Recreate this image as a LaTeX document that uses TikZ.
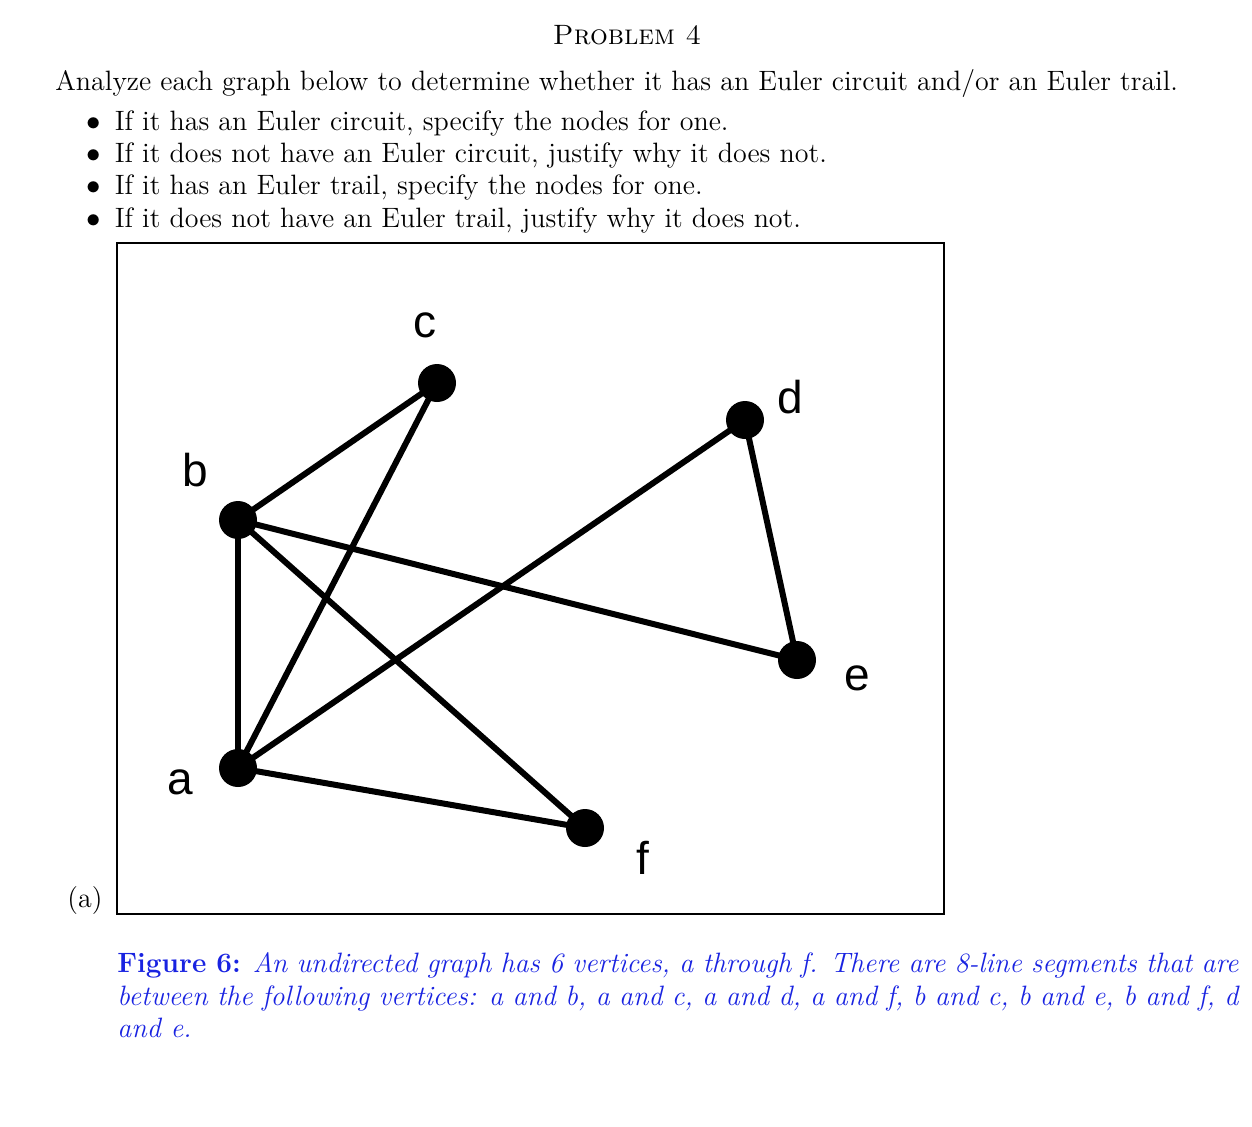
\documentclass[tikz,border=0pt]{standalone}
\usepackage{fontspec}
\newfontfamily\arial{Liberation Sans}
\definecolor{capblue}{RGB}{25,35,225}
\begin{document}
\begin{tikzpicture}[x=0.5pt,y=-0.5pt,
  vtx/.style={circle,fill=black,minimum size=19pt,inner sep=0pt},
  lbl/.style={font=\arial\fontsize{23}{23}\selectfont,inner sep=0pt},
  edge/.style={line width=3pt},
  txt/.style={anchor=west,inner sep=0pt,font=\fontsize{14}{16}\selectfont}]
\useasboundingbox (0,0) rectangle (1252,1126);
\node[inner sep=0pt,font=\fontsize{14}{16}\selectfont] (title) at (627,35) {\textsc{Problem 4}};
\node[txt] (intro) at (55,83) {Analyze each graph below to determine whether it has an Euler circuit and/or an Euler trail.};
\node[txt] (l1) at (86,123) {$\bullet$\hspace{7pt}If it has an Euler circuit, specify the nodes for one.};
\node[txt] (l2) at (86,155) {$\bullet$\hspace{7pt}If it does not have an Euler circuit, justify why it does not.};
\node[txt] (l3) at (86,187) {$\bullet$\hspace{7pt}If it has an Euler trail, specify the nodes for one.};
\node[txt] (l4) at (86,220) {$\bullet$\hspace{7pt}If it does not have an Euler trail, justify why it does not.};
\draw[line width=0.6pt] (117,243) rectangle (944,914);
\node[txt] (lab) at (67,900) {(a)};
\node[vtx] (c) at (437,383) {};
\node[vtx] (d) at (745,420) {};
\node[vtx] (b) at (238,520) {};
\node[vtx] (e) at (797,660) {};
\node[vtx] (a) at (238,768) {};
\node[vtx] (f) at (585,828) {};
\node[lbl] at (425,325) {c};
\node[lbl] at (790,397) {d};
\node[lbl] at (195,470) {b};
\node[lbl] at (857,678) {e};
\node[lbl] at (180,782) {a};
\node[lbl] at (643,858) {f};
\draw[edge] (a.center) -- (b.center);
\draw[edge] (a.center) -- (c.center);
\draw[edge] (a.center) -- (d.center);
\draw[edge] (a.center) -- (f.center);
\draw[edge] (b.center) -- (c.center);
\draw[edge] (b.center) -- (e.center);
\draw[edge] (b.center) -- (f.center);
\draw[edge] (d.center) -- (e.center);
\node[anchor=north west,inner sep=0pt,text width=560.5pt,align=justify,text=capblue,font=\fontsize{14}{16.3}\selectfont] (cap) at (117,952) {\textbf{Figure 6:} \textit{An undirected graph has 6 vertices, a through f. There are 8-line segments that are between the following vertices: a and b, a and c, a and d, a and f, b and c, b and e, b and f, d and e.}};
\end{tikzpicture}
\end{document}
